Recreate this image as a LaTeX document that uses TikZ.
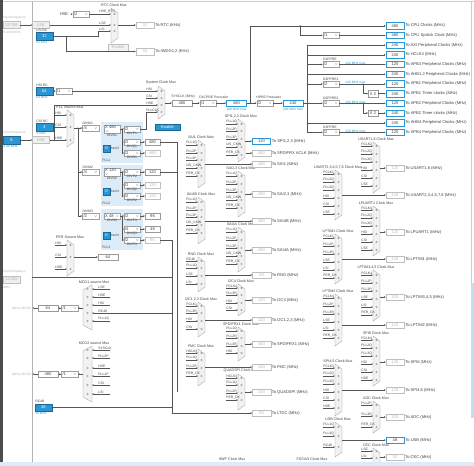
\documentclass[tikz,border=0pt]{standalone}
\usepackage{fontspec}
\setmainfont{Liberation Sans}
\usetikzlibrary{arrows.meta,positioning,calc}

\definecolor{cubeblue}{RGB}{42,150,212}
\definecolor{pllfill}{RGB}{219,235,248}
\definecolor{wiregray}{RGB}{85,85,85}
\definecolor{inkgray}{RGB}{65,65,65}

\tikzset{
  every node/.style={font=\fontsize{5.8}{6.5}\selectfont, text=inkgray},
  wire/.style={draw=wiregray, line width=0.45pt},
  feed/.style={wire, -{Stealth[length=2.4pt,width=2.2pt]}},
  srcbox/.style={fill=cubeblue, draw=cubeblue!70!black, text=white, minimum width=0.85cm, minimum height=0.38cm, inner sep=0pt},
  valbox/.style={draw=cubeblue, line width=0.65pt, fill=white, minimum width=0.92cm, minimum height=0.32cm, inner sep=0pt},
  plainbox/.style={draw=gray!80, fill=white, minimum width=0.92cm, minimum height=0.32cm, inner sep=0pt},
  offbox/.style={plainbox, draw=gray!50, text=gray!55},
  freqbox/.style={offbox, fill=gray!12, text=gray!60, minimum width=0.85cm, minimum height=0.36cm},
  dropbox/.style={draw=gray!75, fill=white, minimum width=0.82cm, minimum height=0.3cm, inner sep=0.6pt, text width=0.7cm, align=left},
  muxtitle/.style={anchor=south, inner sep=0.5pt, font=\fontsize{5.2}{6}\selectfont},
  tolabel/.style={anchor=west, inner sep=0.5pt},
  inlabel/.style={anchor=south west, inner sep=0.4pt, font=\fontsize{4.8}{5.5}\selectfont},
  maxnote/.style={anchor=north, inner sep=0.5pt, text=cubeblue, font=\fontsize{4.6}{5}\selectfont},
  graynote/.style={anchor=west, inner sep=0.5pt, text=gray!60, font=\fontsize{4.6}{5}\selectfont},
  pllzone/.style={fill=pllfill, draw=none},
}

% dropdown text
\newcommand{\dd}[1]{#1\hfill$\scriptscriptstyle\vee$}

% mux: name, x, top, bottom, out y, title, inputs
\newcommand{\clkmux}[7]{%
  \draw[draw=gray!80, fill=gray!10] (#2,#3) -- (#2+7,#3+5) -- (#2+7,#4-5) -- (#2,#4) -- cycle;
  \node[muxtitle] (#1-title) at (#2+3,#3-1) {#6};
  \foreach \lab/\yy [count=\k] in {#7}{%
    \coordinate (#1-\k) at (#2-12,\yy);
    \draw[feed] (#1-\k) -- (#2,\yy);
    \node[inlabel] (#1-lab\k) at (#1-\k) {\lab};
    \ifnum\k=1
      \filldraw[draw=gray!75, fill=gray!60] (#2+3.5,\yy) circle (1.2pt);
    \else
      \filldraw[draw=gray!75, fill=white] (#2+3.5,\yy) circle (1.2pt);
    \fi
  }
  \coordinate (#1) at (#2+7,#5);
}

% mirrored mux for MCO
\newcommand{\mcomux}[7]{%
  \draw[draw=gray!80, fill=gray!10] (#2,#3) -- (#2-9,#3+5) -- (#2-9,#4-5) -- (#2,#4) -- cycle;
  \node[muxtitle] (#1-title) at (#2+2,#3-1) {#6};
  \foreach \lab/\yy [count=\k] in {#7}{%
    \coordinate (#1-\k) at (#2+18,\yy);
    \draw[feed] (#1-\k) -- (#2,\yy);
    \node[inlabel] (#1-lab\k) at (#2+6,\yy) {\lab};
    \filldraw[draw=gray!75, fill=white] (#2-4.5,\yy) circle (1.2pt);
  }
  \coordinate (#1) at (#2-9,#5);
}

% PLL: index, first row y, N, P, Q, R
\newcommand{\pllblock}[6]{%
  \fill[pllzone] (101,#2-7) rectangle (143,#2+34);
  \node[dropbox, minimum width=0.8cm, text width=0.7cm] (divn#1) at (112,#2) {\dd{X #3}};
  \node[inlabel, anchor=north] (divn#1-txt) at (divn#1.south) {DIVN#1};
  \node[dropbox, minimum width=0.8cm, text width=0.7cm] (divp#1) at (132,#2) {\dd{/#4}};
  \node[inlabel, anchor=north] (divp#1-txt) at (divp#1.south) {DIVP#1};
  \node[dropbox, minimum width=0.8cm, text width=0.7cm] (divq#1) at (132,#2+13) {\dd{/#5}};
  \node[inlabel, anchor=north] (divq#1-txt) at (divq#1.south) {DIVQ#1};
  \node[dropbox, minimum width=0.8cm, text width=0.7cm] (divr#1) at (132,#2+24) {\dd{/#6}};
  \node[inlabel, anchor=north] (divr#1-txt) at (divr#1.south) {DIVR#1};
  \node[srcbox, minimum width=0.36cm, minimum height=0.36cm] (frac#1) at (106.5,#2+19.5) {0};
  \node[inlabel, anchor=west] (frac#1-txt) at (frac#1.east) {fracN};
  \node[inlabel] (pll#1-txt) at (102,#2+33) {PLL#1};
  \coordinate (nsplit#1) at (122,#2);
  \draw[feed] (divn#1) -- (divp#1);
  \draw[wire] (nsplit#1) -- (nsplit#1 |- divr#1);
  \draw[feed] (nsplit#1 |- divq#1) -- (divq#1);
  \draw[feed] (nsplit#1 |- divr#1) -- (divr#1);
}

% output box with its text
\newcommand{\outbox}[6]{%
  \node[#1] (#2) at (#3,#4) {#5};
  \node[tolabel, right=0.6pt of #2] (#2-txt) {#6};
}

\begin{document}
\begin{tikzpicture}[x=0.05cm, y=-0.05cm]
\clip (0,0) rectangle (474,466);
\fill[white] (0,0) rectangle (474,466);

% frame
\fill[gray!60!black] (0,0) rectangle (2.5,466);
\draw[gray!40] (2.5,1.5) -- (474,1.5);
\draw[gray!60] (32,1.5) -- (32,466);
\draw[gray!40] (471.5,1.5) -- (471.5,283);
\fill[cubeblue!30] (470.5,283) rectangle (474,418);

% LSE, LSI and RTC
\node[graynote] (lsefreq-txt) at (3,18) {Input frequency};
\node[freqbox] (lsefreq) at (11.5,25) {32.768};
\node[graynote] (lsefreq-rng) at (3,32) {0-1000 KHz};
\node[freqbox] (lse) at (41,25) {LSE};
\draw[feed] (lsefreq) -- (lse);

\node[inlabel] (lsi-txt) at (36,31.5) {LSI RC};
\node[srcbox] (lsi) at (44.5,36) {32};
\node[maxnote, anchor=north west] (lsi-f) at (36,40.5) {32 KHz};

\clkmux{rtc}{111}{8}{43}{25}{RTC Clock Mux}{HSE\_RTC/14, LSE/25, LSI/31}
\node (rtchse) at (64,14) {HSE};
\node[dropbox] (rtcdiv) at (81,14) {\dd{/2}};
\draw[feed] (rtchse) -- (rtcdiv);
\draw[wire] (rtcdiv) -- (rtc-1);
\draw[wire] (lse) -- (rtc-2);
\draw[wire] (lsi.east) -- ++(45,0) |- (rtc-3);
\outbox{offbox}{rtcclk}{145}{25}{32}{To RTC (KHz)}
\draw[feed] (rtc) -- (rtcclk);
\node[offbox, fill=gray!10, minimum width=1cm] (iwdgen) at (118,47.5) {Enable};
\outbox{offbox}{iwdg}{145}{51.5}{32}{To IWDG1,2 (KHz)}
\draw[feed] ($(lsi.east)+(13,0)$) |- (iwdg);
\draw[wire] (lsi.east) -- ($(lsi.east)+(13,0)$);

% HSI, CSI, HSE
\node[inlabel] (hsi-txt) at (36,86.5) {HSI RC};
\node[srcbox] (hsi) at (44.5,91) {64};
\node[maxnote, anchor=north west] (hsi-f) at (36,95.5) {64 MHz};
\node[dropbox] (hsidiv) at (64,91) {\dd{/1}};
\draw[feed] (hsi) -- (hsidiv);

\node[inlabel] (csi-txt) at (36,122.5) {CSI RC};
\node[srcbox] (csi) at (44.5,127) {4};
\node[maxnote, anchor=north west] (csi-f) at (36,131.5) {4 MHz};

\node[graynote] (hsefreq-txt) at (3,133) {Input frequency};
\node[srcbox] (hsefreq) at (11.5,140) {8};
\node[maxnote, anchor=north west] (hsefreq-f) at (3,144.5) {4-48 MHz};
\node[freqbox] (hse) at (41,140) {HSE};
\draw[feed] (hsefreq) -- (hse);

% system clock
\clkmux{sys}{158}{86}{119}{103}{System Clock Mux}{HSI/91, CSI/98, HSE/105, PLLCLK/112}
\draw[wire] (hsidiv) -- (sys-1);
\draw[wire] (hse.east) -- ++(5,0) |- (sys-3);
\node[srcbox, minimum width=1.25cm, minimum height=0.3cm] (cssen) at (167.5,127) {Enable};

% PLL source and PLLs
\clkmux{pllsrc}{67}{110}{147}{128}{PLL Source Mux}{HSI/115, CSI/127, HSE/140}
\draw[wire] (csi) -- (pllsrc-2);
\draw[wire] (hse) -- (pllsrc-3);

\node[dropbox] (divm1) at (90.5,128) {\dd{/4}};
\node[dropbox] (divm2) at (90.5,172) {\dd{/4}};
\node[dropbox] (divm3) at (90.5,216) {\dd{/2}};
\node[inlabel] (divm1-txt) at (divm1.north west) {DIVM1};
\node[inlabel] (divm2-txt) at (divm2.north west) {DIVM2};
\node[inlabel] (divm3-txt) at (divm3.north west) {DIVM3};
\coordinate (divsplit) at (78,128);
\draw[feed] (pllsrc) -- (divm1);
\draw[wire] (divsplit) -- (divsplit |- divm3);
\draw[feed] (divsplit |- divm2) -- (divm2);
\draw[feed] (divsplit |- divm3) -- (divm3);
\fill[wiregray] (divsplit) circle (0.8pt);

\pllblock{1}{129}{480}{2}{2}{2}
\pllblock{2}{172}{120}{2}{2}{2}
\pllblock{3}{216}{48}{2}{4}{2}

\node[plainbox, minimum width=0.75cm] (pll1q) at (152.5,142) {480};
\node[offbox, minimum width=0.75cm] (pll1r) at (152.5,153) {480};
\node[plainbox, minimum width=0.75cm] (pll2p) at (152.5,172) {120};
\node[offbox, minimum width=0.75cm] (pll2q) at (152.5,185) {120};
\node[offbox, minimum width=0.75cm] (pll2r) at (152.5,196) {120};
\node[plainbox, minimum width=0.75cm] (pll3p) at (152.5,216) {96};
\node[plainbox, minimum width=0.75cm] (pll3q) at (152.5,229) {48};
\node[offbox, minimum width=0.75cm] (pll3r) at (152.5,240) {96};
\foreach \p in {1,2,3}{\draw[feed] (divq\p) -- (pll\p q); \draw[feed] (divr\p) -- (pll\p r);}
\draw[feed] (divp2) -- (pll2p);
\draw[feed] (divp3) -- (pll3p);
\draw[wire] (divp1.east) -| ($(sys-4)+(0.5,0)$);

% PER source
\clkmux{per}{67}{240}{276}{257}{PER Source Mux}{HSI/245, CSI/257, HSE/269}
\node[plainbox, minimum width=1cm] (perck) at (108,257) {64};
\draw[feed] (per) -- (perck);

\node[graynote] (i2sfreq-txt) at (3,272) {Input frequency};
\node[freqbox] (i2sfreq) at (11.5,279.5) {12.288};
\node[graynote] (i2sfreq-u) at (3,287) {MHz};

% SYSCLK chain
\node[plainbox, minimum width=1cm] (sysclk) at (182,103) {480};
\node[inlabel] (sysclk-txt) at (171,98.5) {SYSCLK (MHz)};
\node[dropbox] (d1cpre) at (208,103) {\dd{/1}};
\node[inlabel] (d1cpre-txt) at (199,98.5) {D1CPRE Prescaler};
\node[valbox, minimum width=1cm] (cpuclk) at (236.5,103) {480};
\node[maxnote] (cpuclk-max) at (236.5,107.5) {480 MHz max};
\node[dropbox] (hpre) at (265,103) {\dd{/2}};
\node[inlabel] (hpre-txt) at (256,98.5) {HPRE Prescaler};
\node[valbox, minimum width=1cm] (hclk) at (293,103) {240};
\node[maxnote] (hclk-max) at (293,107.5) {240 MHz max};
\draw[feed] (sys) -- (sysclk);
\draw[feed] (sysclk) -- (d1cpre);
\draw[feed] (d1cpre) -- (cpuclk);
\draw[feed] (cpuclk) -- (hpre);
\draw[feed] (hpre) -- (hclk);

\coordinate (cpubus) at (250,103);
\coordinate (cputop) at (250,25.7);
\coordinate (tickdrop) at (300,25.7);
\coordinate (ahbtop) at (307,45.1);
\coordinate (ahbbot) at (307,132.4);

\foreach \nm/\yy/\val/\txt in {
  r1/25.7/480/{To CPU Clocks (MHz)},
  r2/35.4/480/{To CPU Systick Clock (MHz)},
  r3/45.1/240/{To AXI Peripheral Clocks (MHz)},
  r4/54.8/240/{To HCLK3 (MHz)},
  r5/64.5/120/{To APB3 Peripheral Clocks (MHz)},
  r6/74.2/240/{To AHB1,2 Peripheral Clocks (MHz)},
  r7/83.9/120/{To APB1 Peripheral Clocks (MHz)},
  r8/93.6/240/{To APB1 Timer clocks (MHz)},
  r9/103.3/120/{To APB2 Peripheral Clocks (MHz)},
  r10/113/240/{To APB2 Timer clocks (MHz)},
  r11/122.7/240/{To AHB4 Peripheral Clocks (MHz)},
  r12/132.4/120/{To APB4 Peripheral Clocks (MHz)}}
  {\node[valbox] (\nm) at (395,\yy) {\val};
   \node[tolabel, right=0.6pt of \nm] (\nm-txt) {\txt};}

\draw[wire] (cpubus) -- (cputop);
\draw[feed] (cputop) -- (r1);
\node[dropbox] (systick) at (331,35.4) {\dd{/1}};
\draw[feed] (tickdrop) |- (systick);
\draw[feed] (systick) -- (r2);
\fill[wiregray] (tickdrop) circle (0.8pt);
\draw[wire] (hclk) -- (hclk -| ahbtop);
\draw[wire] (ahbtop) -- (ahbbot);
\foreach \row in {r3,r4,r6,r11}{\draw[feed] (\row -| ahbtop) -- (\row);}

\foreach \nm/\row/\lbl in {d1ppre/r5/D1PPRE, d2ppre1/r7/D2PPRE1, d2ppre2/r9/D2PPRE2, d3ppre/r12/D3PPRE}{
  \node[dropbox] (\nm) at ($(\row)+(-64,0)$) {\dd{/2}};
  \node[inlabel] (\nm-txt) at (\nm.north west) {\lbl};
  \node[maxnote, anchor=south west] (\nm-max) at ($(\row)+(-50,0.5)$) {120 MHz max};
  \draw[feed] (\nm -| ahbtop) -- (\nm);
  \draw[feed] (\nm) -- (\row);
}

\node[plainbox, minimum width=0.5cm] (tim1x) at (373,93.6) {X 2};
\node[plainbox, minimum width=0.5cm] (tim2x) at (373,113) {X 2};
\coordinate (tim1dot) at (363,83.9);
\coordinate (tim2dot) at (363,103.3);
\fill[wiregray] (tim1dot) circle (0.8pt);
\fill[wiregray] (tim2dot) circle (0.8pt);
\draw[feed] (tim1dot) |- (tim1x);
\draw[feed] (tim2dot) |- (tim2x);
\draw[feed] (tim1x) -- (r8);
\draw[feed] (tim2x) -- (r10);

% PLL busses
\coordinate (busa-top) at (177,142);
\coordinate (busa-bot) at (177,392);
\coordinate (busb-top) at (172,240);
\coordinate (busb-bot) at (172,413);
\draw[wire] (pll1q) -- (pll1q -| busa-top);
\draw[wire] (pll2p) -- (pll2p -| busa-top);
\draw[wire] (busa-top) -- (busa-bot);
\draw[wire] (pll3r) -- (busb-top);
\draw[wire] (busb-top) -- (busb-bot);
\coordinate (i2sline) at (32,277);
\draw[wire] (i2sline) -- (i2sline -| busb-top);

% middle column
\clkmux{spi123}{238}{119}{162}{141}{SPI1,2,3 Clock Mux}{PLL1Q/124, PLL2P/131, PLL3P/139, I2S\_CKIN/147, PER\_CK/155}
\clkmux{sai1}{198}{140}{188}{164}{SAI1 Clock Mux}{PLL1Q/145, PLL2P/153, PLL3P/160, I2S\_CKIN/168, PER\_CK/176}
\clkmux{sai23}{238}{171}{217}{194}{SAI2,3 Clock Mux}{PLL1Q/176, PLL2P/184, PLL3P/192, I2S\_CKIN/200, PER\_CK/208}
\clkmux{sai4b}{198}{197}{244}{221}{SAI4B Clock Mux}{PLL1Q/202, PLL2P/210, PLL3P/217, I2S\_CKIN/225, PER\_CK/233}
\clkmux{sai4a}{238}{227}{272}{250}{SAI4A Clock Mux}{PLL1Q/232, PLL2P/240, PLL3P/248, I2S\_CKIN/256, PER\_CK/264}
\clkmux{rng}{198}{257}{292}{275}{RNG Clock Mux}{RC48/261, PLL1Q/268, LSE/276, LSI/284}
\clkmux{i2c4}{238}{284}{316}{300}{I2C4 Clock Mux}{PCLK4/288, PLL3R/295, HSI/303, CSI/310}
\clkmux{i2c123}{198}{302}{337}{320}{I2C1,2,3 Clock Mux}{PCLK1/306, PLL3R/313, HSI/321, CSI/329}
\clkmux{spdif}{238}{327}{361}{344}{SPDIFRX1 Clock Mux}{PLL1Q/331, PLL2R/338, PLL3R/346, HSI/353}
\clkmux{fmc}{198}{349}{386}{367}{FMC Clock Mux}{HCLK3/353, PLL1Q/360, PLL2R/368, PER\_CK/376}
\clkmux{qspi}{238}{374}{410}{392}{QUADSPI Clock Mux}{HCLK3/378, PLL1Q/385, PLL2R/393, PER\_CK/400}

\outbox{valbox}{spi123-v}{261.5}{141}{120}{To SPI1,2,3 (MHz)}
\outbox{offbox}{spdifa-v}{261.5}{153}{480}{To SPDIFRX ACLK (MHz)}
\outbox{offbox}{sai1-v}{261.5}{164}{480}{To SAI1 (MHz)}
\outbox{offbox}{sai23-v}{261.5}{194}{480}{To SAI2,3 (MHz)}
\outbox{offbox}{sai4b-v}{261.5}{221}{480}{To SAI4B (MHz)}
\outbox{offbox}{sai4a-v}{261.5}{250}{480}{To SAI4A (MHz)}
\outbox{offbox}{rng-v}{261.5}{275}{48}{To RNG (MHz)}
\outbox{offbox}{i2c4-v}{261.5}{300}{120}{To I2C4 (MHz)}
\outbox{offbox}{i2c123-v}{261.5}{320}{120}{To I2C1,2,3 (MHz)}
\outbox{offbox}{spdif-v}{261.5}{344}{480}{To SPDIFRX1 (MHz)}
\outbox{offbox}{fmc-v}{261.5}{367}{240}{To FMC (MHz)}
\outbox{offbox}{qspi-v}{261.5}{392}{240}{To QUADSPI (MHz)}
\outbox{offbox}{ltdc-v}{261.5}{413}{96}{To LTDC (MHz)}
\foreach \m in {spi123,sai1,sai23,sai4b,sai4a,rng,i2c4,i2c123,spdif,fmc,qspi}{\draw[feed] (\m) -- (\m-v);}
\coordinate (spdifa-in) at (246,153);
\draw[feed] (spdifa-in) -- (spdifa-v);
\draw[feed] (busb-bot) -- (ltdc-v);

% right column
\clkmux{usart16}{373}{142}{193}{168}{USART1,6 Clock Mux}{PCLK2/146, PLL2Q/154, PLL3Q/162, HSI/170, CSI/178, LSE/186}
\clkmux{usart2}{335}{170}{220}{195}{USART2,3,4,5,7,8 Clock Mux}{PCLK1/174, PLL2Q/182, PLL3Q/190, HSI/198, CSI/206, LSE/214}
\clkmux{lpuart}{373}{206}{256}{232}{LPUART1 Clock Mux}{PCLK4/210, PLL2Q/218, PLL3Q/226, HSI/234, CSI/242, LSE/250}
\clkmux{lptim1}{335}{234}{284}{259}{LPTIM1 Clock Mux}{PCLK1/238, PLL2P/246, PLL3R/254, LSE/262, LSI/270, PER\_CK/278}
\clkmux{lptim345}{373}{270}{321}{297}{LPTIM3,4,5 Clock Mux}{PCLK4/275, PLL2P/283, PLL3R/291, LSE/299, LSI/307, PER\_CK/315}
\clkmux{lptim2}{335}{294}{346}{325}{LPTIM2 Clock Mux}{PCLK4/298, PLL2P/306, PLL3R/314, LSE/322, LSI/330, PER\_CK/338}
\clkmux{spi6}{373}{336}{386}{362}{SPI6 Clock Mux}{PCLK4/340, PLL2Q/348, PLL3Q/356, HSI/364, CSI/372, HSE/380}
\clkmux{spi45}{335}{364}{416}{390}{SPI4,5 Clock Mux}{PCLK2/368, PLL2Q/376, PLL3Q/384, HSI/392, CSI/400, HSE/408}
\clkmux{adc}{373}{401}{433}{417}{ADC Clock Mux}{PLL2P/405, PLL3R/416, PER\_CK/427}
\clkmux{usb}{335}{422}{457}{440}{USB Clock Mux}{PLL1Q/427, PLL3Q/436, RC48/447}
\clkmux{cec}{373}{448}{482}{457}{CEC Clock Mux}{LSE/451, LSI/458}

\outbox{offbox}{usart16-v}{395}{168}{120}{To USART1,6 (MHz)}
\outbox{offbox}{usart2-v}{395}{195}{120}{To USART2,3,4,5,7,8 (MHz)}
\outbox{offbox}{lpuart-v}{395}{232}{120}{To LPUART1 (MHz)}
\outbox{offbox}{lptim1-v}{395}{259}{120}{To LPTIM1 (MHz)}
\outbox{offbox}{lptim345-v}{395}{297}{120}{To LPTIM3,4,5 (MHz)}
\outbox{offbox}{lptim2-v}{395}{325}{120}{To LPTIM2 (MHz)}
\outbox{offbox}{spi6-v}{395}{362}{120}{To SPI6 (MHz)}
\outbox{offbox}{spi45-v}{395}{390}{120}{To SPI4,5 (MHz)}
\outbox{offbox}{adc-v}{395}{417}{120}{To ADC (MHz)}
\outbox{valbox}{usb-v}{395}{440}{48}{To USB (MHz)}
\outbox{offbox}{cec-v}{395}{457}{32}{To CEC (MHz)}
\foreach \m in {usart16,usart2,lpuart,lptim1,lptim345,lptim2,spi6,spi45,adc,usb,cec}{\draw[feed] (\m) -- (\m-v);}

% MCO outputs
\mcomux{mco1}{92}{285}{330}{308}{MCO1 source Mux}{LSE/289, HSE/297, HSI/305, RC48/313, PLL1Q/321}
\mcomux{mco2}{92}{346}{402}{374}{MCO2 source Mux}{SYSCLK/350, PLL2P/358, HSE/368, PLL1P/376, CSI/385, LSI/394}
\node[dropbox] (mco1div) at (69.5,308) {\dd{/1}};
\node[plainbox, minimum width=1cm] (mco1box) at (48,308) {64};
\node[graynote, anchor=east] (mco1-txt) at (31.5,309) {(MHz) MCO1};
\node[dropbox] (mco2div) at (69.5,374) {\dd{/1}};
\node[plainbox, minimum width=1cm] (mco2box) at (48,374) {480};
\node[graynote, anchor=east] (mco2-txt) at (31.5,375) {(MHz) MCO2};
\coordinate (mco1pin) at (32.5,308);
\coordinate (mco2pin) at (32.5,374);
\draw[feed] (mco1) -- (mco1div);
\draw[feed] (mco1div) -- (mco1box);
\draw[feed] (mco1box) -- (mco1pin);
\draw[feed] (mco2) -- (mco2div);
\draw[feed] (mco2div) -- (mco2box);
\draw[feed] (mco2box) -- (mco2pin);
\draw[wire] (mco1-4) -- (mco1-4 -| busb-top);

% HSI48
\node[inlabel] (rc48-txt) at (35,403) {RC48};
\node[srcbox] (rc48) at (43.5,407.5) {48};
\node[maxnote, anchor=north west] (rc48-f) at (35,412) {48 MHz};
\draw[wire] (rc48) -- (rc48 -| busb-top);

% cut-off muxes at the bottom
\node[muxtitle] (swp-title) at (232,461) {SWP Clock Mux};
\node[muxtitle] (fdcan-title) at (312,461.5) {FDCAN Clock Mux};
\fill[pllfill] (0,462) rectangle (474,466);
\end{tikzpicture}
\end{document}
